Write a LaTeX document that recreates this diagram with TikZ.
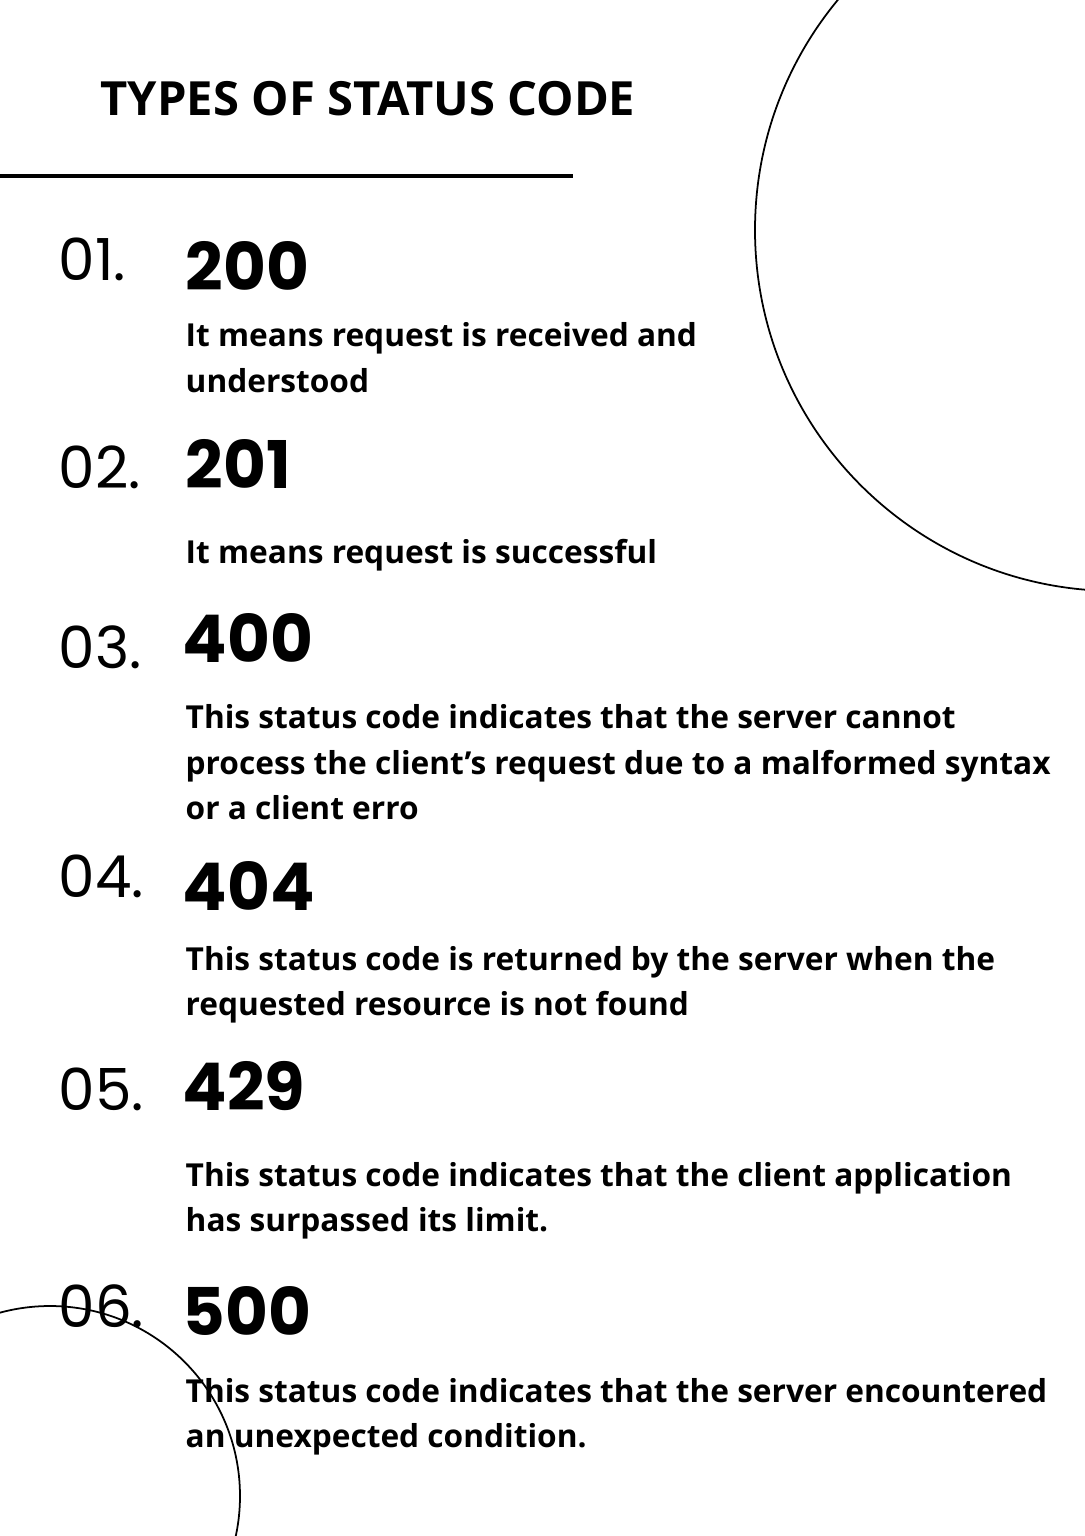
\documentclass[tikz,border=0pt]{standalone}
\usepackage{fontspec}
\setmainfont{Open Sans}
\newfontfamily\numfont{Poppins}
\newfontfamily\codefont{Poppins}
\usetikzlibrary{positioning}
\tikzset{
  num/.style={anchor=base west, inner sep=0pt, font=\numfont\fontsize{16.5}{20}\selectfont},
  code/.style={anchor=base west, inner sep=0pt, font=\codefont\bfseries\fontsize{18.7}{22}\selectfont},
  desc/.style={anchor=base west, inner sep=0pt, align=left, font=\bfseries\fontsize{9}{12.8}\selectfont},
}
\begin{document}
\begin{tikzpicture}[x=0.01cm,y=-0.01cm]
\useasboundingbox (0,0) rectangle (1085,1536);
\begin{scope}
\clip (0,0) rectangle (1085,1536);
\draw[line width=0.5pt] (1116,230) circle [radius=361];
\draw[line width=0.5pt] (50,1496) circle [radius=190];
\end{scope}
\node[anchor=base west, inner sep=0pt, font=\bfseries\fontsize{13.4}{16}\selectfont] (title) at (100,115) {TYPES OF STATUS CODE};
\draw[line width=1pt] (0,176) -- (573,176);

% last-line baselines
\node[num] (n1) at (58,280) {01.};
\node[code] (c1) at (185,290) {200};
\node[desc] (d1) at (185,392) {It means request is received and\\understood};

\node[num] (n2) at (58,488) {02.};
\node[code] (c2) at (185,488) {201};
\node[desc] (d2) at (185,563) {It means request is successful};

\node[num] (n3) at (58,668) {03.};
\node[code] (c3) at (182,662) {400};
\node[desc] (d3) at (185,819) {This status code indicates that the server cannot\\process the client's request due to a malformed syntax\\or a client erro};

\node[num] (n4) at (58,897) {04.};
\node[code] (c4) at (182,910) {404};
\node[desc] (d4) at (185,1015) {This status code is returned by the server when the\\requested resource is not found};

\node[num] (n5) at (58,1110) {05.};
\node[code] (c5) at (182,1110) {429};
\node[desc] (d5) at (185,1231) {This status code indicates that the client application\\has surpassed its limit.};

\node[num] (n6) at (58,1327) {06.};
\node[code] (c6) at (182,1335) {500};
\node[desc] (d6) at (185,1447) {This status code indicates that the server encountered\\an unexpected condition.};
\end{tikzpicture}
\end{document}
